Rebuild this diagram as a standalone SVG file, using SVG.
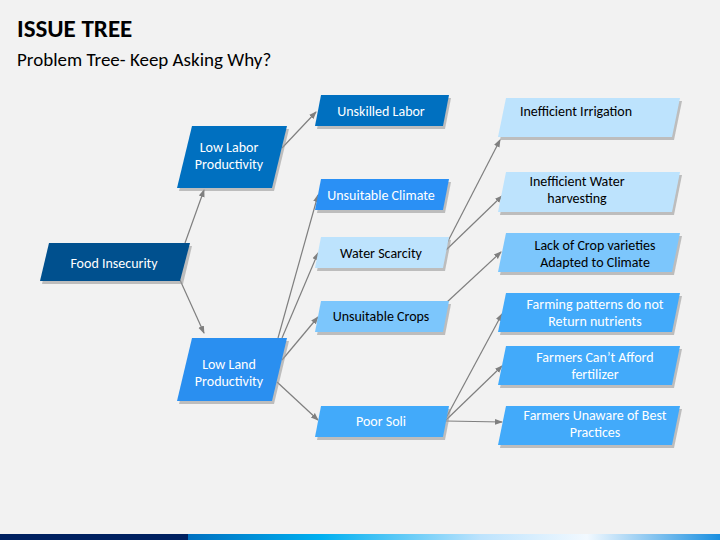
<svg xmlns="http://www.w3.org/2000/svg" width="720" height="540" viewBox="0 0 720 540">
<defs>
<style>
text{font-family:Calibri,"Carlito","Liberation Sans",sans-serif;text-anchor:middle}
.n{font-size:14px}
.w{fill:#fff}.k{fill:#000}
.sh{fill:#9a9a9a;opacity:.6}
.c{stroke:#7f7f7f;stroke-width:1.2;fill:none;marker-end:url(#a)}
</style>
<marker id="a" markerWidth="8" markerHeight="8" refX="7" refY="4" orient="auto" markerUnits="userSpaceOnUse"><path d="M0,1 L8,4 L0,7 Z" fill="#7f7f7f"/></marker>
<linearGradient id="g" x1="0" x2="1"><stop offset="0" stop-color="#0070c0"/><stop offset=".25" stop-color="#00b0f0"/><stop offset=".55" stop-color="#bde3fd"/><stop offset=".75" stop-color="#f2f9ff"/><stop offset="1" stop-color="#1a8fe0"/></linearGradient>
</defs>
<rect width="720" height="540" fill="#f2f2f2"/>
<rect x="0" y="534" width="188" height="6" fill="#002060"/>
<rect x="188" y="534" width="532" height="6" fill="url(#g)"/>
<text x="17" y="37" style="text-anchor:start;font-size:25px;font-weight:bold" fill="#000">ISSUE TREE</text>
<text x="17" y="66" style="text-anchor:start;font-size:19px" fill="#000">Problem Tree- Keep Asking Why?</text>
<g id="connectors">
<path class="c" d="M185,243 L204,190"/>
<path class="c" d="M180,280 L204,333"/>
<path class="c" d="M282,148 L316,112"/>
<path class="c" d="M278,338 L318,195"/>
<path class="c" d="M282,338 L318,253"/>
<path class="c" d="M282,360 L318,317"/>
<path class="c" d="M277,382 L318,420"/>
<path class="c" d="M446,245 L500,140"/>
<path class="c" d="M446,250 L502,196"/>
<path class="c" d="M446,303 L501,252"/>
<path class="c" d="M446,418 L502,314"/>
<path class="c" d="M446,420 L502,366"/>
<path class="c" d="M446,421 L502,422"/>
</g>
<g id="food"><polygon class="sh" points="51,246 192,246 183,284 42,284"/><polygon points="49,243 190,243 180,281 40,281" fill="#00508e"/><text class="n w" x="114" y="268">Food Insecurity</text></g>
<g id="labor"><polygon class="sh" points="194,129 289,129 274,191 179,191"/><polygon points="192,126 287,126 272,188 177,188" fill="#0070c0"/><text class="n w" x="229" y="152">Low Labor</text><text class="n w" x="229" y="169">Productivity</text></g>
<g id="land"><polygon class="sh" points="194,341 289,341 274,404 179,404"/><polygon points="192,338 287,338 272,401 177,401" fill="#2a8ff0"/><text class="n w" x="229" y="369">Low Land</text><text class="n w" x="229" y="386">Productivity</text></g>
<g id="unskilled"><polygon class="sh" points="323,98 451,98 445,129 317,129"/><polygon points="321,95 449,95 443,126 315,126" fill="#0070c0"/><text class="n w" x="381" y="116">Unskilled Labor</text></g>
<g id="climate"><polygon class="sh" points="323,182 451,182 445,213 317,213"/><polygon points="321,179 449,179 443,210 315,210" fill="#2a90f5"/><text class="n w" x="381" y="200">Unsuitable Climate</text></g>
<g id="water"><polygon class="sh" points="323,240 451,240 445,271 317,271"/><polygon points="321,237 449,237 443,268 315,268" fill="#bde3fd"/><text class="n k" x="381" y="258">Water Scarcity</text></g>
<g id="crops"><polygon class="sh" points="323,304 451,304 445,335 317,335"/><polygon points="321,301 449,301 443,332 315,332" fill="#7cc6fc"/><text class="n k" x="381" y="321">Unsuitable Crops</text></g>
<g id="soil"><polygon class="sh" points="323,409 451,409 445,440 317,440"/><polygon points="321,406 449,406 443,437 315,437" fill="#42aafa"/><text class="n w" x="381" y="426">Poor Soli</text></g>
<g id="irrig"><polygon class="sh" points="508,101 682,101 674,140 500,140"/><polygon points="506,98 680,98 672,137 498,137" fill="#bde3fd"/><text class="n k" x="576" y="116">Inefficient Irrigation</text></g>
<g id="harvest"><polygon class="sh" points="508,175 682,175 674,215 500,215"/><polygon points="506,172 680,172 672,212 498,212" fill="#bde3fd"/><text class="n k" x="577" y="186">Inefficient Water</text><text class="n k" x="577" y="203">harvesting</text></g>
<g id="lack"><polygon class="sh" points="508,236 682,236 674,275 500,275"/><polygon points="506,233 680,233 672,272 498,272" fill="#7cc6fc"/><text class="n k" x="595" y="250">Lack of Crop varieties</text><text class="n k" x="595" y="267">Adapted to Climate</text></g>
<g id="farming"><polygon class="sh" points="508,296 682,296 674,335 500,335"/><polygon points="506,293 680,293 672,332 498,332" fill="#42aafa"/><text class="n w" x="595" y="309">Farming patterns do not</text><text class="n w" x="595" y="326">Return nutrients</text></g>
<g id="afford"><polygon class="sh" points="508,349 682,349 674,388 500,388"/><polygon points="506,346 680,346 672,385 498,385" fill="#42aafa"/><text class="n w" x="595" y="362">Farmers Can’t Afford</text><text class="n w" x="595" y="379">fertilizer</text></g>
<g id="unaware"><polygon class="sh" points="508,409 682,409 674,448 500,448"/><polygon points="506,406 680,406 672,445 498,445" fill="#42aafa"/><text class="n w" x="595" y="420">Farmers Unaware of Best</text><text class="n w" x="595" y="437">Practices</text></g>
</svg>
